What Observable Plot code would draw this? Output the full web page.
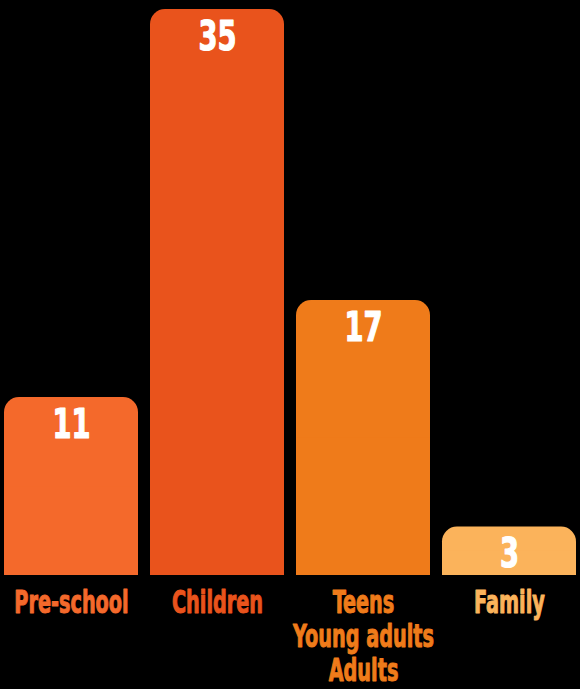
<!DOCTYPE html>
<html>
<head>
<meta charset="utf-8">
<script src="https://cdn.jsdelivr.net/npm/d3@7"></script>
<script src="https://cdn.jsdelivr.net/npm/@observablehq/plot@0.6"></script>
<style>
  html, body { margin: 0; padding: 0; background: #000; }
  #chart svg { display: block; }
</style>
</head>
<body>
<div id="chart"></div>
<script>
const categories = ["Pre-school", "Children", "Teens\nYoung adults\nAdults", "Family"];
const values = [11, 35, 17, 3];
const colors = ["#F4692B", "#E9531C", "#EF7B1A", "#FBB35B"];

const data = categories.map((c, i) => ({category: c, value: values[i], color: colors[i]}));

const font = "'DejaVu Sans Condensed', 'Liberation Sans Narrow', sans-serif";

const chart = Plot.plot({
  width: 580,
  height: 689,
  marginTop: 9,
  marginBottom: 114,
  marginLeft: 4,
  marginRight: 3,
  style: {background: "#000", fontFamily: font},
  x: {domain: categories, paddingInner: 0.082, paddingOuter: 0, axis: null},
  y: {domain: [0, 35], axis: null},
  color: {type: "identity"},
  marks: [
    Plot.barY(data, {x: "category", y: "value", fill: "color", rx: 15}),
    Plot.barY(data, {x: "category", y1: 0, y2: d => d.value / 2, fill: "color"}),
    Plot.text(data, {
      x: "category", y: "value", text: d => String(d.value), className: "vals",
      lineAnchor: "top", dy: 11, fill: "#fff", stroke: "#fff", strokeWidth: 1.2,
      fontSize: 41, fontWeight: "bold"
    }),
    Plot.text(data, {
      x: "category", y: 0, text: "category", className: "lbls",
      lineAnchor: "top", dy: 14, fill: "color", stroke: "color", strokeWidth: 1,
      fontSize: 32, fontWeight: "bold", lineHeight: 1.05
    })
  ]
});
const squeeze = (sel, k) => d3.select(chart).selectAll(sel).each(function() {
  const t = this.getAttribute("transform") || "";
  this.setAttribute("transform", t + ` scale(${k},1)`);
});
squeeze(".vals text", 0.74);
squeeze(".lbls text", 0.67);
document.getElementById("chart").appendChild(chart);
</script>
</body>
</html>
